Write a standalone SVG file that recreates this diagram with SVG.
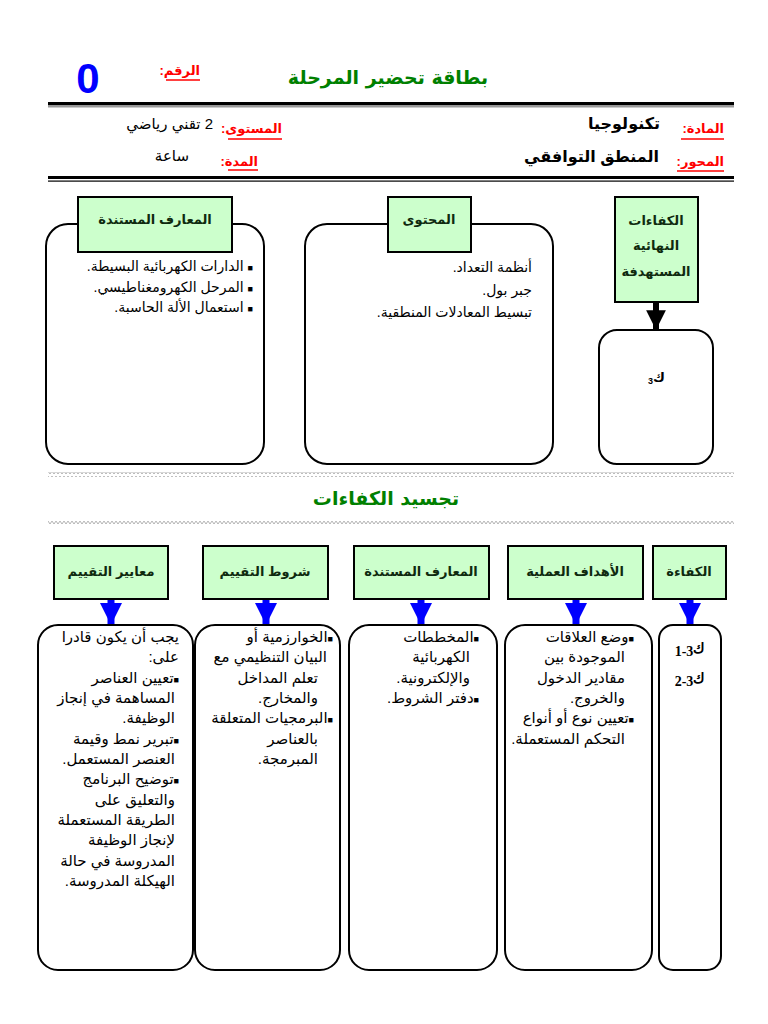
<svg xmlns="http://www.w3.org/2000/svg" width="768" height="1024" viewBox="0 0 768 1024">
<defs>
<style>
.ar{font-family:"Liberation Sans","DejaVu Sans",sans-serif;direction:rtl;text-anchor:start}
.red{fill:#ff0000;font-weight:bold;font-size:13px}
.lbl{fill:#ccffcc;stroke:#000;stroke-width:2}
.box{fill:#fff;stroke:#000;stroke-width:2}
.lt{font-family:"Liberation Sans","DejaVu Sans",sans-serif;font-weight:bold;font-size:13px;fill:#0f2a0f;text-anchor:middle}
.bt{font-size:14px;fill:#000}
.ct{font-size:15px;fill:#000}
.b{font-size:9px}
.ul{stroke:#ff0000;stroke-width:1.5}
</style>
<pattern id="zig" x="0" y="0" width="4" height="5" patternUnits="userSpaceOnUse">
<polyline points="0,1 2,4 4,1" fill="none" stroke="#aaaaaa" stroke-width="0.9"/>
</pattern>
<marker id="ab" viewBox="0 0 10 10" refX="10" refY="5" markerWidth="3.2" markerHeight="3.2" orient="auto" markerUnits="strokeWidth">
<path d="M0,0 L10,5 L0,10 z" fill="#0000ff"/>
</marker>
<marker id="ak" viewBox="0 0 10 10" refX="10" refY="5" markerWidth="3.3" markerHeight="3.3" orient="auto" markerUnits="strokeWidth">
<path d="M0,0 L10,5 L0,10 z" fill="#000"/>
</marker>
</defs>
<rect width="768" height="1024" fill="#fff"/>

<g id="header">
<text x="88" y="93" font-family="Liberation Sans,sans-serif" font-weight="bold" font-size="42" fill="#0000ff" text-anchor="middle">0</text>
<text x="200" y="75" class="ar red">الرقم:</text>
<line x1="166" y1="80" x2="200" y2="80" class="ul"/>
<text x="388" y="84" font-family="DejaVu Sans,sans-serif" font-weight="bold" font-size="19" fill="#008000" text-anchor="middle">بطاقة تحضير المرحلة</text>
<rect x="48" y="102" width="686" height="3" fill="#000"/>
<rect x="48" y="105" width="686" height="2.5" fill="#999"/>

<text x="724" y="133" class="ar red">المادة:</text>
<line x1="681" y1="139" x2="724" y2="139" class="ul"/>
<text x="660" y="129" class="ar" font-weight="bold" font-size="16">تكنولوجيا</text>
<text x="282" y="133" class="ar red">المستوى:</text>
<line x1="228" y1="139" x2="282" y2="139" class="ul"/>
<text x="213" y="129" class="ar" font-size="15">2 تقني رياضي</text>

<text x="724" y="166" class="ar red">المحور:</text>
<line x1="677" y1="171" x2="724" y2="171" class="ul"/>
<text x="659" y="162" class="ar" font-weight="bold" font-size="16">المنطق التوافقي</text>
<text x="258" y="166" class="ar red">المدة:</text>
<line x1="228" y1="170" x2="258" y2="170" class="ul"/>
<text x="189" y="161" class="ar" font-size="15">ساعة</text>

<rect x="48" y="176" width="686" height="3" fill="#000"/>
<rect x="48" y="180.5" width="686" height="1.2" fill="#000"/>
</g>

<g id="connectors">
<line x1="656" y1="302" x2="656" y2="330" stroke="#000" stroke-width="6" marker-end="url(#ak)"/>
<line x1="111" y1="599" x2="111" y2="625" stroke="#0000ff" stroke-width="7" marker-end="url(#ab)"/>
<line x1="266" y1="599" x2="266" y2="625" stroke="#0000ff" stroke-width="7" marker-end="url(#ab)"/>
<line x1="421" y1="599" x2="421" y2="625" stroke="#0000ff" stroke-width="7" marker-end="url(#ab)"/>
<line x1="576" y1="599" x2="576" y2="625" stroke="#0000ff" stroke-width="7" marker-end="url(#ab)"/>
<line x1="690" y1="599" x2="690" y2="625" stroke="#0000ff" stroke-width="7" marker-end="url(#ab)"/>
</g>

<g id="prior-knowledge">
<rect x="46" y="224" width="218" height="240" rx="22" class="box"/>
<rect x="78" y="197" width="154" height="55" class="lbl"/>
<text x="155" y="224" class="lt" font-size="14">المعارف المستندة</text>
<text class="ar bt"><tspan x="253" y="271"><tspan class="b">■</tspan> الدارات الكهربائية البسيطة.</tspan><tspan x="253" y="292"><tspan class="b">■</tspan> المرحل الكهرومغناطيسي.</tspan><tspan x="253" y="312"><tspan class="b">■</tspan> استعمال الألة الحاسبة.</tspan></text>
</g>

<g id="content">
<rect x="305" y="224" width="248" height="240" rx="22" class="box"/>
<rect x="388" y="197" width="83" height="55" class="lbl"/>
<text x="429" y="224" class="lt" font-size="14">المحتوى</text>
<text class="ar bt"><tspan x="532" y="272">أنظمة التعداد.</tspan><tspan x="532" y="295">جبر بول.</tspan><tspan x="532" y="317">تبسيط المعادلات المنطقية.</tspan></text>
</g>

<g id="target-competency">
<rect x="615" y="197" width="83" height="105" class="lbl"/>
<text class="lt" font-size="12"><tspan x="656" y="225">الكفاءات</tspan><tspan x="656" y="250">النهائية</tspan><tspan x="656" y="276">المستهدفة</tspan></text>
</g>

<g id="competency-box">
<rect x="599" y="330" width="114" height="134" rx="18" class="box"/>
<text x="648" y="384" font-family="Liberation Sans,DejaVu Sans,sans-serif" font-weight="bold" direction="ltr"><tspan font-size="9">3</tspan><tspan font-size="13" dy="-2">ك</tspan></text>
</g>

<g id="separator">
<rect x="48" y="472" width="686" height="5" fill="url(#zig)"/>
<text x="386" y="505" font-family="DejaVu Sans,sans-serif" font-weight="bold" font-size="19" fill="#008000" text-anchor="middle">تجسيد الكفاءات</text>
<rect x="48" y="519" width="686" height="5" fill="url(#zig)"/>
</g>

<g id="evaluation-criteria">
<rect x="54" y="546" width="114" height="53" class="lbl"/>
<text x="111" y="576" class="lt">معايير التقييم</text>
<rect x="38" y="625" width="155" height="345" rx="20" class="box"/>
<text class="ar ct">
<tspan x="179" y="642">يجب أن يكون قادرا</tspan>
<tspan x="179" y="662">على:</tspan>
<tspan x="179" y="683"><tspan class="b">■</tspan>تعيين العناصر</tspan>
<tspan x="175" y="703">المساهمة في إنجاز</tspan>
<tspan x="175" y="723">الوظيفة.</tspan>
<tspan x="179" y="744"><tspan class="b">■</tspan>تبرير نمط وقيمة</tspan>
<tspan x="175" y="764">العنصر المستعمل.</tspan>
<tspan x="179" y="784"><tspan class="b">■</tspan>توضيح البرنامج</tspan>
<tspan x="175" y="805">والتعليق على</tspan>
<tspan x="175" y="825">الطريقة المستعملة</tspan>
<tspan x="175" y="845">لإنجاز الوظيفة</tspan>
<tspan x="175" y="866">المدروسة في حالة</tspan>
<tspan x="175" y="886">الهيكلة المدروسة.</tspan>
</text>
</g>

<g id="evaluation-conditions">
<rect x="203" y="546" width="125" height="53" class="lbl"/>
<text x="265" y="576" class="lt">شروط التقييم</text>
<rect x="195" y="625" width="145" height="345" rx="20" class="box"/>
<text class="ar ct">
<tspan x="333" y="642"><tspan class="b">■</tspan>الخوارزمية أو</tspan>
<tspan x="327" y="662">البيان التنظيمي مع</tspan>
<tspan x="318" y="683">تعلم المداخل</tspan>
<tspan x="318" y="703">والمخارج.</tspan>
<tspan x="333" y="723"><tspan class="b">■</tspan>البرمجيات المتعلقة</tspan>
<tspan x="318" y="744">بالعناصر</tspan>
<tspan x="318" y="764">المبرمجة.</tspan>
</text>
</g>

<g id="prior-knowledge-2">
<rect x="354" y="546" width="135" height="53" class="lbl"/>
<text x="421" y="576" class="lt">المعارف المستندة</text>
<rect x="349" y="625" width="148" height="345" rx="20" class="box"/>
<text class="ar ct">
<tspan x="479" y="642"><tspan class="b">■</tspan>المخططات</tspan>
<tspan x="470" y="662">الكهربائية</tspan>
<tspan x="470" y="683">والإلكترونية.</tspan>
<tspan x="479" y="703"><tspan class="b">■</tspan>دفتر الشروط.</tspan>
</text>
</g>

<g id="practical-objectives">
<rect x="508" y="546" width="135" height="53" class="lbl"/>
<text x="575" y="576" class="lt">الأهداف العملية</text>
<rect x="505" y="625" width="147" height="345" rx="20" class="box"/>
<text class="ar ct">
<tspan x="634" y="642"><tspan class="b">■</tspan>وضع العلاقات</tspan>
<tspan x="625" y="662">الموجودة بين</tspan>
<tspan x="625" y="683">مقادير الدخول</tspan>
<tspan x="625" y="703">والخروج.</tspan>
<tspan x="634" y="723"><tspan class="b">■</tspan>تعيين نوع أو أنواع</tspan>
<tspan x="625" y="744">التحكم المستعملة.</tspan>
</text>
</g>

<g id="competency">
<rect x="653" y="546" width="73" height="53" class="lbl"/>
<text x="689" y="576" class="lt">الكفاءة</text>
<rect x="659" y="625" width="62" height="345" rx="14" class="box"/>
<text x="690" y="656" font-family="Liberation Serif,DejaVu Serif,serif" font-weight="bold" font-size="14" text-anchor="middle" direction="ltr">1-3<tspan dy="-3">ك</tspan></text>
<text x="690" y="686" font-family="Liberation Serif,DejaVu Serif,serif" font-weight="bold" font-size="14" text-anchor="middle" direction="ltr">2-3<tspan dy="-3">ك</tspan></text>
</g>
</svg>
